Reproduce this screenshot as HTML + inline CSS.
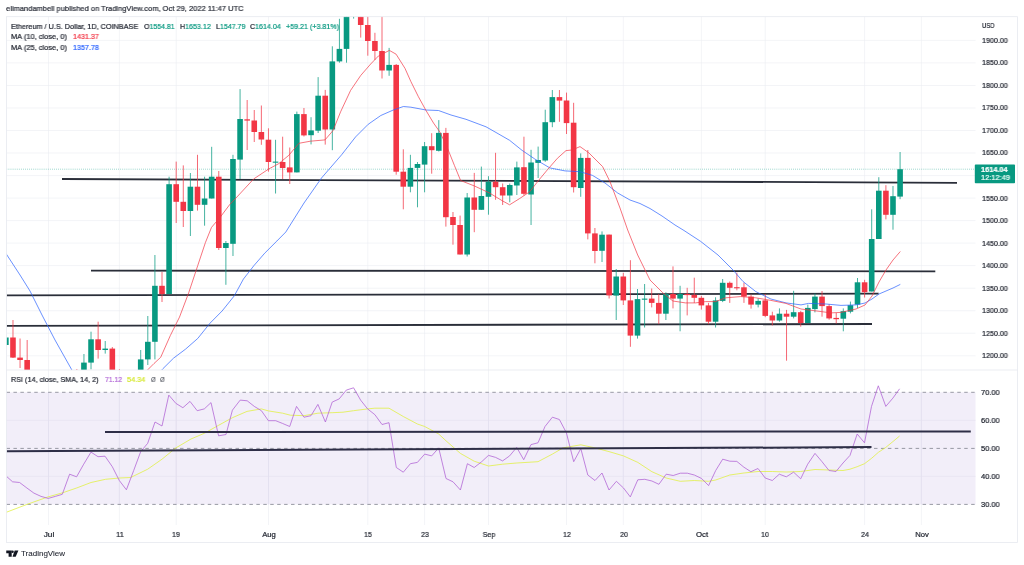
<!DOCTYPE html>
<html><head><meta charset="utf-8"><title>chart</title>
<style>
html,body{margin:0;padding:0;background:#fff;}
body{width:1024px;height:565px;position:relative;overflow:hidden;font-family:"Liberation Sans",sans-serif;}
.t{position:absolute;white-space:nowrap;line-height:1.2;will-change:transform;-webkit-text-stroke:0.22px currentColor;font-family:"Liberation Sans",sans-serif;}
.c{text-align:center;}
</style></head><body>
<svg width="1024" height="565" viewBox="0 0 1024 565" style="position:absolute;left:0;top:0">
<defs><clipPath id="cm"><rect x="6.5" y="16.7" width="969.0" height="353.3"/></clipPath><clipPath id="cr"><rect x="6.5" y="370.0" width="969.0" height="155.0"/></clipPath></defs>
<line x1="48.5" y1="16.7" x2="48.5" y2="525.0" stroke="#ebedf1" stroke-width="0.6"/>
<line x1="119.4" y1="16.7" x2="119.4" y2="525.0" stroke="#ebedf1" stroke-width="0.6"/>
<line x1="176.2" y1="16.7" x2="176.2" y2="525.0" stroke="#ebedf1" stroke-width="0.6"/>
<line x1="268.5" y1="16.7" x2="268.5" y2="525.0" stroke="#ebedf1" stroke-width="0.6"/>
<line x1="367.8" y1="16.7" x2="367.8" y2="525.0" stroke="#ebedf1" stroke-width="0.6"/>
<line x1="424.6" y1="16.7" x2="424.6" y2="525.0" stroke="#ebedf1" stroke-width="0.6"/>
<line x1="488.5" y1="16.7" x2="488.5" y2="525.0" stroke="#ebedf1" stroke-width="0.6"/>
<line x1="566.5" y1="16.7" x2="566.5" y2="525.0" stroke="#ebedf1" stroke-width="0.6"/>
<line x1="623.3" y1="16.7" x2="623.3" y2="525.0" stroke="#ebedf1" stroke-width="0.6"/>
<line x1="701.4" y1="16.7" x2="701.4" y2="525.0" stroke="#ebedf1" stroke-width="0.6"/>
<line x1="765.2" y1="16.7" x2="765.2" y2="525.0" stroke="#ebedf1" stroke-width="0.6"/>
<line x1="864.6" y1="16.7" x2="864.6" y2="525.0" stroke="#ebedf1" stroke-width="0.6"/>
<line x1="921.4" y1="16.7" x2="921.4" y2="525.0" stroke="#ebedf1" stroke-width="0.6"/>
<line x1="6.5" y1="355.8" x2="975.5" y2="355.8" stroke="#ebedf1" stroke-width="0.6"/>
<line x1="6.5" y1="333.2" x2="975.5" y2="333.2" stroke="#ebedf1" stroke-width="0.6"/>
<line x1="6.5" y1="310.7" x2="975.5" y2="310.7" stroke="#ebedf1" stroke-width="0.6"/>
<line x1="6.5" y1="288.2" x2="975.5" y2="288.2" stroke="#ebedf1" stroke-width="0.6"/>
<line x1="6.5" y1="265.6" x2="975.5" y2="265.6" stroke="#ebedf1" stroke-width="0.6"/>
<line x1="6.5" y1="243.1" x2="975.5" y2="243.1" stroke="#ebedf1" stroke-width="0.6"/>
<line x1="6.5" y1="220.6" x2="975.5" y2="220.6" stroke="#ebedf1" stroke-width="0.6"/>
<line x1="6.5" y1="198.1" x2="975.5" y2="198.1" stroke="#ebedf1" stroke-width="0.6"/>
<line x1="6.5" y1="175.6" x2="975.5" y2="175.6" stroke="#ebedf1" stroke-width="0.6"/>
<line x1="6.5" y1="153.0" x2="975.5" y2="153.0" stroke="#ebedf1" stroke-width="0.6"/>
<line x1="6.5" y1="130.5" x2="975.5" y2="130.5" stroke="#ebedf1" stroke-width="0.6"/>
<line x1="6.5" y1="108.0" x2="975.5" y2="108.0" stroke="#ebedf1" stroke-width="0.6"/>
<line x1="6.5" y1="85.5" x2="975.5" y2="85.5" stroke="#ebedf1" stroke-width="0.6"/>
<line x1="6.5" y1="62.9" x2="975.5" y2="62.9" stroke="#ebedf1" stroke-width="0.6"/>
<line x1="6.5" y1="40.4" x2="975.5" y2="40.4" stroke="#ebedf1" stroke-width="0.6"/>
<rect x="6.5" y="392.3" width="969.0" height="112.1" fill="#7e57c2" fill-opacity="0.1"/>
<line x1="6.5" y1="420.4" x2="975.5" y2="420.4" stroke="#e4e0ef" stroke-width="0.6"/>
<line x1="6.5" y1="476.4" x2="975.5" y2="476.4" stroke="#e4e0ef" stroke-width="0.6"/>
<line x1="48.5" y1="392.3" x2="48.5" y2="504.4" stroke="#e3dff0" stroke-width="0.6"/>
<line x1="119.4" y1="392.3" x2="119.4" y2="504.4" stroke="#e3dff0" stroke-width="0.6"/>
<line x1="176.2" y1="392.3" x2="176.2" y2="504.4" stroke="#e3dff0" stroke-width="0.6"/>
<line x1="268.5" y1="392.3" x2="268.5" y2="504.4" stroke="#e3dff0" stroke-width="0.6"/>
<line x1="367.8" y1="392.3" x2="367.8" y2="504.4" stroke="#e3dff0" stroke-width="0.6"/>
<line x1="424.6" y1="392.3" x2="424.6" y2="504.4" stroke="#e3dff0" stroke-width="0.6"/>
<line x1="488.5" y1="392.3" x2="488.5" y2="504.4" stroke="#e3dff0" stroke-width="0.6"/>
<line x1="566.5" y1="392.3" x2="566.5" y2="504.4" stroke="#e3dff0" stroke-width="0.6"/>
<line x1="623.3" y1="392.3" x2="623.3" y2="504.4" stroke="#e3dff0" stroke-width="0.6"/>
<line x1="701.4" y1="392.3" x2="701.4" y2="504.4" stroke="#e3dff0" stroke-width="0.6"/>
<line x1="765.2" y1="392.3" x2="765.2" y2="504.4" stroke="#e3dff0" stroke-width="0.6"/>
<line x1="864.6" y1="392.3" x2="864.6" y2="504.4" stroke="#e3dff0" stroke-width="0.6"/>
<line x1="921.4" y1="392.3" x2="921.4" y2="504.4" stroke="#e3dff0" stroke-width="0.6"/>
<line x1="6.5" y1="392.3" x2="975.5" y2="392.3" stroke="#868994" stroke-width="0.85" stroke-dasharray="3.5 3.44"/>
<line x1="6.5" y1="448.4" x2="975.5" y2="448.4" stroke="#868994" stroke-width="0.85" stroke-dasharray="3.5 3.44"/>
<line x1="6.5" y1="504.4" x2="975.5" y2="504.4" stroke="#868994" stroke-width="0.85" stroke-dasharray="3.5 3.44"/>
<g clip-path="url(#cm)">
<line x1="62" y1="179" x2="957" y2="182.8" stroke="#2a2e39" stroke-width="1.8"/>
<line x1="91" y1="270.6" x2="935.3" y2="271.3" stroke="#2a2e39" stroke-width="1.8"/>
<line x1="6.5" y1="295.4" x2="878.6" y2="293.6" stroke="#2a2e39" stroke-width="1.8"/>
<line x1="6.5" y1="325.8" x2="872" y2="324" stroke="#2a2e39" stroke-width="1.8"/>
<line x1="6.5" y1="169.2" x2="975.5" y2="169.2" stroke="#089981" stroke-width="0.65" stroke-opacity="0.85" stroke-dasharray="0.7 1.37"/>
<line x1="5.87" y1="337.5" x2="5.87" y2="345" stroke="#089981" stroke-width="0.75"/>
<rect x="3.07" y="337.5" width="5.6" height="7.5" fill="#089981"/>
<line x1="12.97" y1="320" x2="12.97" y2="358" stroke="#f23645" stroke-width="0.75"/>
<rect x="10.17" y="337.5" width="5.6" height="20.1" fill="#f23645"/>
<line x1="20.06" y1="338.5" x2="20.06" y2="368" stroke="#f23645" stroke-width="0.75"/>
<rect x="17.26" y="357.6" width="5.6" height="2.4" fill="#f23645"/>
<line x1="27.16" y1="340" x2="27.16" y2="380" stroke="#f23645" stroke-width="0.75"/>
<rect x="24.36" y="360" width="5.6" height="20.0" fill="#f23645"/>
<line x1="76.84" y1="369" x2="76.84" y2="380" stroke="#f23645" stroke-width="0.75"/>
<line x1="83.94" y1="354" x2="83.94" y2="380" stroke="#089981" stroke-width="0.75"/>
<rect x="81.14" y="362.6" width="5.6" height="17.4" fill="#089981"/>
<line x1="91.03" y1="331.7" x2="91.03" y2="369.4" stroke="#089981" stroke-width="0.75"/>
<rect x="88.23" y="339.3" width="5.6" height="23.3" fill="#089981"/>
<line x1="98.13" y1="321.7" x2="98.13" y2="358.6" stroke="#f23645" stroke-width="0.75"/>
<rect x="95.33" y="339.3" width="5.6" height="10.7" fill="#f23645"/>
<line x1="105.23" y1="341" x2="105.23" y2="353.6" stroke="#089981" stroke-width="0.75"/>
<rect x="102.43" y="348.6" width="5.6" height="1.4" fill="#089981"/>
<line x1="112.32" y1="347" x2="112.32" y2="380" stroke="#f23645" stroke-width="0.75"/>
<rect x="109.52" y="348.6" width="5.6" height="31.4" fill="#f23645"/>
<line x1="119.42" y1="369" x2="119.42" y2="380" stroke="#f23645" stroke-width="0.75"/>
<line x1="140.71" y1="350" x2="140.71" y2="380" stroke="#089981" stroke-width="0.75"/>
<rect x="137.91" y="359.4" width="5.6" height="20.6" fill="#089981"/>
<line x1="147.81" y1="316" x2="147.81" y2="365" stroke="#089981" stroke-width="0.75"/>
<rect x="145.01" y="341.8" width="5.6" height="17.6" fill="#089981"/>
<line x1="154.91" y1="255" x2="154.91" y2="359.4" stroke="#089981" stroke-width="0.75"/>
<rect x="152.11" y="285.8" width="5.6" height="56.0" fill="#089981"/>
<line x1="162.00" y1="272" x2="162.00" y2="302" stroke="#f23645" stroke-width="0.75"/>
<rect x="159.20" y="285.8" width="5.6" height="8.2" fill="#f23645"/>
<line x1="169.10" y1="176.7" x2="169.10" y2="294" stroke="#089981" stroke-width="0.75"/>
<rect x="166.30" y="184.2" width="5.6" height="109.8" fill="#089981"/>
<line x1="176.20" y1="161.6" x2="176.20" y2="223" stroke="#f23645" stroke-width="0.75"/>
<rect x="173.40" y="184.2" width="5.6" height="17.6" fill="#f23645"/>
<line x1="183.29" y1="165.4" x2="183.29" y2="227" stroke="#f23645" stroke-width="0.75"/>
<rect x="180.49" y="201.8" width="5.6" height="9.2" fill="#f23645"/>
<line x1="190.39" y1="173" x2="190.39" y2="236" stroke="#089981" stroke-width="0.75"/>
<rect x="187.59" y="186.7" width="5.6" height="24.3" fill="#089981"/>
<line x1="197.49" y1="154.8" x2="197.49" y2="210.6" stroke="#f23645" stroke-width="0.75"/>
<rect x="194.69" y="186.7" width="5.6" height="18.1" fill="#f23645"/>
<line x1="204.58" y1="176.7" x2="204.58" y2="225.7" stroke="#089981" stroke-width="0.75"/>
<rect x="201.78" y="198.5" width="5.6" height="6.3" fill="#089981"/>
<line x1="211.68" y1="146.8" x2="211.68" y2="198.5" stroke="#089981" stroke-width="0.75"/>
<rect x="208.88" y="176.7" width="5.6" height="21.8" fill="#089981"/>
<line x1="218.78" y1="171" x2="218.78" y2="250" stroke="#f23645" stroke-width="0.75"/>
<rect x="215.98" y="176.7" width="5.6" height="71.3" fill="#f23645"/>
<line x1="225.88" y1="241" x2="225.88" y2="284.8" stroke="#089981" stroke-width="0.75"/>
<rect x="223.07" y="243" width="5.6" height="5.0" fill="#089981"/>
<line x1="232.97" y1="154.8" x2="232.97" y2="256" stroke="#089981" stroke-width="0.75"/>
<rect x="230.17" y="159" width="5.6" height="84.8" fill="#089981"/>
<line x1="240.07" y1="89.1" x2="240.07" y2="179" stroke="#089981" stroke-width="0.75"/>
<rect x="237.27" y="119" width="5.6" height="40.6" fill="#089981"/>
<line x1="247.17" y1="100" x2="247.17" y2="150" stroke="#f23645" stroke-width="0.75"/>
<rect x="244.37" y="119.3" width="5.6" height="1.3" fill="#f23645"/>
<line x1="254.26" y1="110" x2="254.26" y2="142" stroke="#f23645" stroke-width="0.75"/>
<rect x="251.46" y="120.5" width="5.6" height="11.5" fill="#f23645"/>
<line x1="261.36" y1="105.5" x2="261.36" y2="144.8" stroke="#f23645" stroke-width="0.75"/>
<rect x="258.56" y="132" width="5.6" height="7.5" fill="#f23645"/>
<line x1="268.46" y1="128.3" x2="268.46" y2="171.7" stroke="#f23645" stroke-width="0.75"/>
<rect x="265.66" y="139.7" width="5.6" height="22.3" fill="#f23645"/>
<line x1="275.55" y1="139.8" x2="275.55" y2="193.5" stroke="#089981" stroke-width="0.75"/>
<rect x="272.75" y="161.6" width="5.6" height="1.1" fill="#089981"/>
<line x1="282.65" y1="136.7" x2="282.65" y2="179" stroke="#f23645" stroke-width="0.75"/>
<rect x="279.85" y="162" width="5.6" height="6.0" fill="#f23645"/>
<line x1="289.75" y1="147.5" x2="289.75" y2="184" stroke="#f23645" stroke-width="0.75"/>
<rect x="286.95" y="167.4" width="5.6" height="5.0" fill="#f23645"/>
<line x1="296.85" y1="111.6" x2="296.85" y2="172.4" stroke="#089981" stroke-width="0.75"/>
<rect x="294.05" y="114.1" width="5.6" height="58.3" fill="#089981"/>
<line x1="303.94" y1="108" x2="303.94" y2="136.5" stroke="#f23645" stroke-width="0.75"/>
<rect x="301.14" y="114.1" width="5.6" height="21.3" fill="#f23645"/>
<line x1="311.04" y1="117.2" x2="311.04" y2="144.4" stroke="#089981" stroke-width="0.75"/>
<rect x="308.24" y="130.4" width="5.6" height="4.8" fill="#089981"/>
<line x1="318.14" y1="77.1" x2="318.14" y2="133" stroke="#089981" stroke-width="0.75"/>
<rect x="315.34" y="95.7" width="5.6" height="35.0" fill="#089981"/>
<line x1="325.23" y1="89.9" x2="325.23" y2="144.6" stroke="#f23645" stroke-width="0.75"/>
<rect x="322.43" y="95.7" width="5.6" height="33.8" fill="#f23645"/>
<line x1="332.33" y1="46.3" x2="332.33" y2="150.2" stroke="#089981" stroke-width="0.75"/>
<rect x="329.53" y="61.4" width="5.6" height="68.1" fill="#089981"/>
<line x1="339.43" y1="18.8" x2="339.43" y2="62.7" stroke="#089981" stroke-width="0.75"/>
<rect x="336.63" y="48.9" width="5.6" height="12.5" fill="#089981"/>
<line x1="346.52" y1="5" x2="346.52" y2="62.7" stroke="#089981" stroke-width="0.75"/>
<rect x="343.72" y="5" width="5.6" height="43.9" fill="#089981"/>
<line x1="353.62" y1="5" x2="353.62" y2="18.6" stroke="#089981" stroke-width="0.75"/>
<line x1="360.72" y1="5" x2="360.72" y2="37.6" stroke="#f23645" stroke-width="0.75"/>
<rect x="357.92" y="5" width="5.6" height="20.0" fill="#f23645"/>
<line x1="367.81" y1="5" x2="367.81" y2="55.7" stroke="#f23645" stroke-width="0.75"/>
<rect x="365.01" y="25" width="5.6" height="16.0" fill="#f23645"/>
<line x1="374.91" y1="32.8" x2="374.91" y2="60" stroke="#f23645" stroke-width="0.75"/>
<rect x="372.11" y="41" width="5.6" height="10.0" fill="#f23645"/>
<line x1="382.01" y1="5" x2="382.01" y2="78.5" stroke="#f23645" stroke-width="0.75"/>
<rect x="379.21" y="51" width="5.6" height="19.5" fill="#f23645"/>
<line x1="389.11" y1="47.9" x2="389.11" y2="75.8" stroke="#089981" stroke-width="0.75"/>
<rect x="386.31" y="64.9" width="5.6" height="5.6" fill="#089981"/>
<line x1="396.20" y1="64" x2="396.20" y2="174.7" stroke="#f23645" stroke-width="0.75"/>
<rect x="393.40" y="64.9" width="5.6" height="106.8" fill="#f23645"/>
<line x1="403.30" y1="149.3" x2="403.30" y2="209.3" stroke="#f23645" stroke-width="0.75"/>
<rect x="400.50" y="171.7" width="5.6" height="15.0" fill="#f23645"/>
<line x1="410.40" y1="154.8" x2="410.40" y2="192.3" stroke="#089981" stroke-width="0.75"/>
<rect x="407.60" y="167.9" width="5.6" height="18.8" fill="#089981"/>
<line x1="417.49" y1="162" x2="417.49" y2="207.3" stroke="#089981" stroke-width="0.75"/>
<rect x="414.69" y="164" width="5.6" height="3.9" fill="#089981"/>
<line x1="424.59" y1="142" x2="424.59" y2="192.3" stroke="#089981" stroke-width="0.75"/>
<rect x="421.79" y="146.2" width="5.6" height="18.4" fill="#089981"/>
<line x1="431.69" y1="133.2" x2="431.69" y2="173.7" stroke="#f23645" stroke-width="0.75"/>
<rect x="428.89" y="146.2" width="5.6" height="4.0" fill="#f23645"/>
<line x1="438.79" y1="120.1" x2="438.79" y2="151.5" stroke="#089981" stroke-width="0.75"/>
<rect x="435.99" y="132.9" width="5.6" height="17.9" fill="#089981"/>
<line x1="445.88" y1="127.9" x2="445.88" y2="226.6" stroke="#f23645" stroke-width="0.75"/>
<rect x="443.08" y="132.9" width="5.6" height="84.3" fill="#f23645"/>
<line x1="452.98" y1="212" x2="452.98" y2="244.7" stroke="#f23645" stroke-width="0.75"/>
<rect x="450.18" y="217" width="5.6" height="8.0" fill="#f23645"/>
<line x1="460.08" y1="215.6" x2="460.08" y2="254.5" stroke="#f23645" stroke-width="0.75"/>
<rect x="457.28" y="225" width="5.6" height="29.5" fill="#f23645"/>
<line x1="467.17" y1="193" x2="467.17" y2="256.5" stroke="#089981" stroke-width="0.75"/>
<rect x="464.37" y="197.5" width="5.6" height="57.0" fill="#089981"/>
<line x1="474.27" y1="172.9" x2="474.27" y2="232.2" stroke="#f23645" stroke-width="0.75"/>
<rect x="471.47" y="197.5" width="5.6" height="12.3" fill="#f23645"/>
<line x1="481.37" y1="166.6" x2="481.37" y2="209.8" stroke="#089981" stroke-width="0.75"/>
<rect x="478.57" y="196" width="5.6" height="13.8" fill="#089981"/>
<line x1="488.46" y1="176.2" x2="488.46" y2="214.7" stroke="#089981" stroke-width="0.75"/>
<rect x="485.66" y="181.7" width="5.6" height="15.1" fill="#089981"/>
<line x1="495.56" y1="152.8" x2="495.56" y2="199.8" stroke="#f23645" stroke-width="0.75"/>
<rect x="492.76" y="181.7" width="5.6" height="5.5" fill="#f23645"/>
<line x1="502.66" y1="183.5" x2="502.66" y2="205" stroke="#f23645" stroke-width="0.75"/>
<rect x="499.86" y="187.2" width="5.6" height="8.3" fill="#f23645"/>
<line x1="509.75" y1="183.5" x2="509.75" y2="202.3" stroke="#089981" stroke-width="0.75"/>
<rect x="506.95" y="185" width="5.6" height="10.5" fill="#089981"/>
<line x1="516.85" y1="161.6" x2="516.85" y2="195" stroke="#089981" stroke-width="0.75"/>
<rect x="514.05" y="167.4" width="5.6" height="18.1" fill="#089981"/>
<line x1="523.95" y1="136.7" x2="523.95" y2="195.5" stroke="#f23645" stroke-width="0.75"/>
<rect x="521.15" y="167.2" width="5.6" height="26.6" fill="#f23645"/>
<line x1="531.05" y1="149.8" x2="531.05" y2="225" stroke="#089981" stroke-width="0.75"/>
<rect x="528.25" y="162.5" width="5.6" height="32.0" fill="#089981"/>
<line x1="538.14" y1="146.6" x2="538.14" y2="178" stroke="#089981" stroke-width="0.75"/>
<rect x="535.34" y="160" width="5.6" height="2.9" fill="#089981"/>
<line x1="545.24" y1="109.7" x2="545.24" y2="161.8" stroke="#089981" stroke-width="0.75"/>
<rect x="542.44" y="122.2" width="5.6" height="38.3" fill="#089981"/>
<line x1="552.34" y1="90" x2="552.34" y2="127.2" stroke="#089981" stroke-width="0.75"/>
<rect x="549.54" y="97.1" width="5.6" height="25.1" fill="#089981"/>
<line x1="559.43" y1="90" x2="559.43" y2="121.8" stroke="#f23645" stroke-width="0.75"/>
<rect x="556.63" y="97.1" width="5.6" height="3.5" fill="#f23645"/>
<line x1="566.53" y1="92.6" x2="566.53" y2="134" stroke="#f23645" stroke-width="0.75"/>
<rect x="563.73" y="100.5" width="5.6" height="22.6" fill="#f23645"/>
<line x1="573.63" y1="102.8" x2="573.63" y2="192.5" stroke="#f23645" stroke-width="0.75"/>
<rect x="570.83" y="122.7" width="5.6" height="64.5" fill="#f23645"/>
<line x1="580.73" y1="153.4" x2="580.73" y2="196.8" stroke="#089981" stroke-width="0.75"/>
<rect x="577.93" y="157.9" width="5.6" height="30.1" fill="#089981"/>
<line x1="587.82" y1="150" x2="587.82" y2="239.4" stroke="#f23645" stroke-width="0.75"/>
<rect x="585.02" y="157.9" width="5.6" height="75.5" fill="#f23645"/>
<line x1="594.92" y1="228" x2="594.92" y2="263.3" stroke="#f23645" stroke-width="0.75"/>
<rect x="592.12" y="233.4" width="5.6" height="17.6" fill="#f23645"/>
<line x1="602.02" y1="231.4" x2="602.02" y2="262" stroke="#089981" stroke-width="0.75"/>
<rect x="599.22" y="234.7" width="5.6" height="16.1" fill="#089981"/>
<line x1="609.11" y1="234.6" x2="609.11" y2="298.5" stroke="#f23645" stroke-width="0.75"/>
<rect x="606.31" y="234.6" width="5.6" height="60.8" fill="#f23645"/>
<line x1="616.21" y1="269" x2="616.21" y2="320" stroke="#089981" stroke-width="0.75"/>
<rect x="613.41" y="276.5" width="5.6" height="19.1" fill="#089981"/>
<line x1="623.31" y1="272.8" x2="623.31" y2="305" stroke="#f23645" stroke-width="0.75"/>
<rect x="620.51" y="276.5" width="5.6" height="23.9" fill="#f23645"/>
<line x1="630.40" y1="260.2" x2="630.40" y2="346.8" stroke="#f23645" stroke-width="0.75"/>
<rect x="627.60" y="300.4" width="5.6" height="35.2" fill="#f23645"/>
<line x1="637.50" y1="289" x2="637.50" y2="338.6" stroke="#089981" stroke-width="0.75"/>
<rect x="634.70" y="299.1" width="5.6" height="36.5" fill="#089981"/>
<line x1="644.60" y1="284" x2="644.60" y2="327.5" stroke="#089981" stroke-width="0.75"/>
<rect x="641.80" y="298.6" width="5.6" height="1.1" fill="#089981"/>
<line x1="651.70" y1="288.5" x2="651.70" y2="307.4" stroke="#f23645" stroke-width="0.75"/>
<rect x="648.90" y="298.6" width="5.6" height="4.3" fill="#f23645"/>
<line x1="658.79" y1="294" x2="658.79" y2="324.2" stroke="#f23645" stroke-width="0.75"/>
<rect x="655.99" y="302.9" width="5.6" height="10.8" fill="#f23645"/>
<line x1="665.89" y1="292.3" x2="665.89" y2="320" stroke="#089981" stroke-width="0.75"/>
<rect x="663.09" y="294" width="5.6" height="19.7" fill="#089981"/>
<line x1="672.99" y1="266.4" x2="672.99" y2="308.4" stroke="#f23645" stroke-width="0.75"/>
<rect x="670.19" y="294" width="5.6" height="4.6" fill="#f23645"/>
<line x1="680.08" y1="285.8" x2="680.08" y2="331.3" stroke="#089981" stroke-width="0.75"/>
<rect x="677.28" y="294" width="5.6" height="4.6" fill="#089981"/>
<line x1="687.18" y1="287.8" x2="687.18" y2="315.4" stroke="#f23645" stroke-width="0.75"/>
<rect x="684.38" y="294" width="5.6" height="1.1" fill="#f23645"/>
<line x1="694.28" y1="277.7" x2="694.28" y2="302.9" stroke="#f23645" stroke-width="0.75"/>
<rect x="691.48" y="294.8" width="5.6" height="3.0" fill="#f23645"/>
<line x1="701.37" y1="295.8" x2="701.37" y2="309.6" stroke="#f23645" stroke-width="0.75"/>
<rect x="698.57" y="297.8" width="5.6" height="7.6" fill="#f23645"/>
<line x1="708.47" y1="302.9" x2="708.47" y2="324.2" stroke="#f23645" stroke-width="0.75"/>
<rect x="705.67" y="305.4" width="5.6" height="16.3" fill="#f23645"/>
<line x1="715.57" y1="297.3" x2="715.57" y2="327.5" stroke="#089981" stroke-width="0.75"/>
<rect x="712.77" y="300.4" width="5.6" height="21.3" fill="#089981"/>
<line x1="722.67" y1="279" x2="722.67" y2="302.1" stroke="#089981" stroke-width="0.75"/>
<rect x="719.87" y="282.8" width="5.6" height="18.1" fill="#089981"/>
<line x1="729.76" y1="281.5" x2="729.76" y2="302.9" stroke="#f23645" stroke-width="0.75"/>
<rect x="726.96" y="282.8" width="5.6" height="5.0" fill="#f23645"/>
<line x1="736.86" y1="272.7" x2="736.86" y2="290.3" stroke="#f23645" stroke-width="0.75"/>
<rect x="734.06" y="287.2" width="5.6" height="1.1" fill="#f23645"/>
<line x1="743.96" y1="282.8" x2="743.96" y2="302.9" stroke="#f23645" stroke-width="0.75"/>
<rect x="741.16" y="287.3" width="5.6" height="9.3" fill="#f23645"/>
<line x1="751.05" y1="294.6" x2="751.05" y2="308.6" stroke="#f23645" stroke-width="0.75"/>
<rect x="748.25" y="296.6" width="5.6" height="8.0" fill="#f23645"/>
<line x1="758.15" y1="298.3" x2="758.15" y2="307.4" stroke="#089981" stroke-width="0.75"/>
<rect x="755.35" y="300.9" width="5.6" height="3.7" fill="#089981"/>
<line x1="765.25" y1="294" x2="765.25" y2="317.2" stroke="#f23645" stroke-width="0.75"/>
<rect x="762.45" y="300.4" width="5.6" height="15.5" fill="#f23645"/>
<line x1="772.34" y1="311.7" x2="772.34" y2="325.5" stroke="#f23645" stroke-width="0.75"/>
<rect x="769.54" y="315.4" width="5.6" height="5.1" fill="#f23645"/>
<line x1="779.44" y1="308.4" x2="779.44" y2="321.7" stroke="#089981" stroke-width="0.75"/>
<rect x="776.64" y="313.7" width="5.6" height="6.8" fill="#089981"/>
<line x1="786.54" y1="309.9" x2="786.54" y2="360.7" stroke="#f23645" stroke-width="0.75"/>
<rect x="783.74" y="313.7" width="5.6" height="3.0" fill="#f23645"/>
<line x1="793.64" y1="290.8" x2="793.64" y2="318.4" stroke="#089981" stroke-width="0.75"/>
<rect x="790.84" y="312.2" width="5.6" height="4.5" fill="#089981"/>
<line x1="800.73" y1="310.9" x2="800.73" y2="326.7" stroke="#f23645" stroke-width="0.75"/>
<rect x="797.93" y="312.2" width="5.6" height="10.8" fill="#f23645"/>
<line x1="807.83" y1="304.6" x2="807.83" y2="323" stroke="#089981" stroke-width="0.75"/>
<rect x="805.03" y="307.9" width="5.6" height="15.1" fill="#089981"/>
<line x1="814.93" y1="293.6" x2="814.93" y2="312.4" stroke="#089981" stroke-width="0.75"/>
<rect x="812.13" y="296.6" width="5.6" height="12.5" fill="#089981"/>
<line x1="822.02" y1="291" x2="822.02" y2="316.7" stroke="#f23645" stroke-width="0.75"/>
<rect x="819.22" y="296.6" width="5.6" height="9.5" fill="#f23645"/>
<line x1="829.12" y1="304.1" x2="829.12" y2="319.7" stroke="#f23645" stroke-width="0.75"/>
<rect x="826.32" y="306.1" width="5.6" height="12.3" fill="#f23645"/>
<line x1="836.22" y1="312.9" x2="836.22" y2="323.5" stroke="#f23645" stroke-width="0.75"/>
<rect x="833.42" y="317.9" width="5.6" height="1.3" fill="#f23645"/>
<line x1="843.31" y1="308.4" x2="843.31" y2="331.3" stroke="#089981" stroke-width="0.75"/>
<rect x="840.51" y="311.2" width="5.6" height="7.5" fill="#089981"/>
<line x1="850.41" y1="301.6" x2="850.41" y2="313.4" stroke="#089981" stroke-width="0.75"/>
<rect x="847.61" y="305.2" width="5.6" height="6.5" fill="#089981"/>
<line x1="857.51" y1="278" x2="857.51" y2="308" stroke="#089981" stroke-width="0.75"/>
<rect x="854.71" y="282.3" width="5.6" height="22.3" fill="#089981"/>
<line x1="864.61" y1="279.8" x2="864.61" y2="297.5" stroke="#f23645" stroke-width="0.75"/>
<rect x="861.81" y="282.3" width="5.6" height="9.9" fill="#f23645"/>
<line x1="871.70" y1="209.3" x2="871.70" y2="291.5" stroke="#089981" stroke-width="0.75"/>
<rect x="868.90" y="239" width="5.6" height="52.5" fill="#089981"/>
<line x1="878.80" y1="177.2" x2="878.80" y2="239" stroke="#089981" stroke-width="0.75"/>
<rect x="876.00" y="190.7" width="5.6" height="48.3" fill="#089981"/>
<line x1="885.90" y1="185.2" x2="885.90" y2="219.4" stroke="#f23645" stroke-width="0.75"/>
<rect x="883.10" y="190.7" width="5.6" height="24.1" fill="#f23645"/>
<line x1="892.99" y1="186" x2="892.99" y2="229.7" stroke="#089981" stroke-width="0.75"/>
<rect x="890.19" y="196.2" width="5.6" height="18.6" fill="#089981"/>
<line x1="900.09" y1="152" x2="900.09" y2="199.2" stroke="#089981" stroke-width="0.75"/>
<rect x="897.29" y="169.2" width="5.6" height="27.4" fill="#089981"/>
<path d="M5.0 252.0 L20.0 275.0 L30.0 291.0 L42.0 315.0 L55.0 340.0 L73.0 372.0 M160.0 372.0 L162.8 368.8 L173.5 358.2 L185.6 349.1 L197.8 338.4 L210.0 323.2 L222.1 311.0 L234.3 295.8 L243.4 279.1 L254.1 265.4 L264.7 253.2 L276.9 241.0 L285.8 232.0 L304.0 203.0 L321.5 178.0 L341.6 154.8 L355.6 136.9 L368.2 124.3 L380.8 115.5 L393.3 110.0 L403.4 106.5 L410.9 107.2 L426.0 110.0 L438.5 110.5 L451.0 115.0 L466.0 119.3 L486.0 126.8 L492.0 130.2 L509.6 140.3 L522.0 150.3 L534.8 159.0 L549.8 167.9 L565.0 170.9 L580.0 171.7 L592.5 175.4 L605.0 183.0 L617.7 193.0 L630.0 200.0 L640.0 203.5 L650.0 208.5 L662.0 216.0 L675.0 225.0 L684.0 230.5 L700.5 241.3 L718.0 255.0 L733.0 270.0 L743.0 281.5 L755.8 291.6 L770.9 299.0 L786.0 302.9 L801.0 304.9 L808.5 303.4 L826.0 304.0 L841.0 305.4 L856.0 304.9 L865.0 303.0 L872.0 299.0 L879.0 294.0 L886.0 291.0 L893.0 288.0 L900.3 284.4" fill="none" stroke="#2962ff" stroke-width="0.7" stroke-linejoin="round"/>
<path d="M147.0 370.5 L154.0 363.5 L160.7 357.3 L170.4 335.4 L179.5 317.1 L188.7 292.8 L197.8 265.4 L205.4 242.6 L211.5 227.4 L220.6 216.7 L229.7 204.6 L236.0 198.0 L253.6 179.0 L268.7 169.0 L278.8 163.6 L288.8 155.3 L298.9 143.3 L310.4 141.2 L325.0 139.9 L333.0 130.6 L340.6 111.8 L350.6 90.4 L360.7 75.5 L370.7 64.0 L378.4 56.0 L389.4 50.4 L396.1 54.2 L405.0 68.4 L410.9 81.6 L418.4 96.7 L426.0 110.5 L433.5 123.0 L439.8 131.9 L446.8 146.5 L454.4 165.4 L460.6 180.5 L474.5 186.0 L489.5 193.0 L502.0 200.6 L509.6 204.8 L519.7 198.5 L529.7 191.8 L538.5 180.5 L547.3 169.9 L557.4 158.3 L566.0 150.6 L572.0 150.0 L580.0 146.6 L588.8 152.8 L602.6 166.6 L610.0 181.7 L620.0 208.0 L627.7 230.0 L637.7 255.0 L650.0 280.0 L662.8 292.8 L672.9 301.0 L685.4 302.9 L695.5 302.9 L705.5 301.6 L715.6 301.6 L725.6 297.8 L740.7 296.6 L755.8 297.8 L770.9 300.4 L785.9 303.4 L801.0 309.0 L816.0 310.9 L831.0 312.9 L841.0 312.4 L856.0 309.0 L865.0 305.0 L872.0 296.0 L879.0 282.0 L886.0 270.0 L893.0 260.0 L900.3 251.5" fill="none" stroke="#f23645" stroke-width="0.7" stroke-linejoin="round"/>
</g>
<g clip-path="url(#cr)">
<path d="M5.0 513.0 L7.0 512.0 L27.0 504.4 L48.0 496.9 L62.0 493.0 L76.6 488.0 L91.0 482.5 L105.5 479.3 L119.3 478.0 L130.7 477.5 L147.7 469.2 L162.0 459.2 L175.9 447.9 L191.0 439.0 L204.3 433.3 L218.6 425.3 L232.4 417.7 L247.0 411.4 L261.4 408.9 L268.4 410.9 L282.7 413.2 L290.3 415.2 L304.0 415.7 L317.9 413.2 L332.2 412.7 L343.0 412.2 L353.6 410.7 L367.6 408.9 L374.9 408.2 L389.0 408.2 L403.3 416.5 L417.4 424.0 L424.7 426.5 L438.7 434.0 L446.0 440.8 L460.4 453.4 L474.2 461.2 L488.5 466.0 L502.6 464.2 L516.7 463.0 L538.0 461.7 L552.4 454.1 L563.0 447.9 L580.8 444.8 L595.0 447.9 L609.0 451.6 L623.5 455.9 L637.8 462.4 L651.9 471.7 L666.2 478.0 L680.3 481.3 L694.3 480.5 L708.6 481.3 L715.7 480.0 L729.8 475.0 L743.9 473.0 L758.0 471.5 L772.3 471.5 L786.3 472.0 L800.7 471.5 L815.0 469.5 L829.0 470.0 L843.0 470.5 L850.0 469.2 L857.2 466.7 L864.5 463.7 L871.5 458.4 L878.3 452.4 L885.8 447.4 L892.9 441.6 L899.6 436.0" fill="none" stroke="#e1f046" stroke-width="0.8" stroke-linejoin="round"/>
<path d="M7.0 476.8 L12.6 481.8 L19.6 482.5 L26.9 488.0 L33.9 493.1 L41.0 496.4 L48.2 498.4 L55.3 496.4 L62.3 494.3 L69.6 474.2 L76.6 476.8 L83.7 464.2 L91.0 452.1 L98.0 456.7 L105.0 456.2 L112.3 466.7 L119.3 480.5 L126.4 489.8 L133.7 470.5 L140.7 451.6 L147.7 443.3 L155.0 422.0 L162.0 426.0 L168.8 395.1 L175.9 403.4 L182.9 407.7 L190.0 401.4 L197.2 410.7 L204.3 408.9 L211.0 402.6 L218.6 435.8 L226.0 434.5 L232.4 410.2 L240.2 400.1 L247.2 400.8 L254.3 406.4 L261.4 410.7 L268.4 420.7 L275.7 420.7 L282.7 423.5 L289.7 426.5 L296.5 406.4 L304.0 417.2 L311.0 415.7 L317.9 404.4 L325.4 422.0 L332.2 402.1 L339.2 398.9 L346.3 390.1 L353.6 387.8 L360.6 400.1 L367.6 408.9 L374.9 414.7 L382.0 424.5 L389.0 422.7 L396.3 467.5 L403.3 472.2 L410.4 463.7 L417.4 462.4 L424.7 454.1 L431.7 455.9 L438.7 447.9 L446.0 478.5 L453.0 481.8 L460.4 490.0 L467.4 463.7 L474.2 467.5 L481.7 461.7 L488.5 455.4 L495.6 457.4 L502.6 460.9 L509.6 455.9 L516.7 447.4 L523.7 459.7 L531.0 444.6 L538.0 442.8 L545.0 426.5 L552.4 417.2 L559.4 419.5 L566.4 432.8 L573.7 461.7 L580.8 448.6 L587.8 475.0 L595.0 480.5 L602.0 473.0 L609.0 490.0 L616.4 481.3 L623.5 488.0 L630.3 496.9 L637.8 479.8 L644.8 479.3 L651.9 481.0 L658.9 484.3 L666.2 474.2 L673.2 475.5 L680.3 473.2 L687.3 473.2 L694.3 475.0 L701.6 478.5 L708.6 485.6 L715.7 470.5 L722.7 459.2 L729.8 461.2 L736.8 461.4 L743.9 467.2 L750.9 471.7 L758.0 468.5 L765.2 478.0 L772.3 480.5 L779.3 474.2 L786.3 476.8 L793.6 472.2 L800.7 478.8 L807.7 464.2 L815.0 453.4 L822.0 461.7 L829.0 470.5 L836.0 471.5 L843.0 463.0 L850.0 455.4 L857.2 434.0 L864.5 442.8 L871.5 406.4 L878.3 385.8 L885.8 406.4 L892.9 398.1 L899.6 388.8" fill="none" stroke="#b267d6" stroke-width="0.8" stroke-linejoin="round"/>
<line x1="105" y1="432" x2="970.8" y2="431.5" stroke="#2e2e47" stroke-width="2"/>
<line x1="6.5" y1="451.3" x2="871.5" y2="447.1" stroke="#2e2e47" stroke-width="2"/>
</g>
<rect x="6.5" y="16.7" width="1011.0" height="525.8" fill="none" stroke="#e6e9ef" stroke-width="0.8"/>
<line x1="6.5" y1="370.0" x2="1017.5" y2="370.0" stroke="#e6e9ef" stroke-width="0.8"/>
<rect x="974.8" y="164.6" width="40.2" height="18.6" rx="0.8" fill="#089981"/>
<g fill="#131722"><path d="M6.25 550.5h5.45v6.3h-3.1v-3.6h-2.35z"/><circle cx="12.55" cy="551.8" r="1.25"/><path d="M14.7 550.5h3.7l-2.7 6.3h-3.2z"/></g>
</svg>
<div class="t" id="t0" style="left:6.40px;top:4.32px;font-size:7.9px;color:#2a2e39;transform:scaleX(0.9531);transform-origin:0 50%;"><span>elimandambell published on TradingView.com, Oct 29, 2022 11:47 UTC</span></div>
<div class="t" id="t1" style="left:11.40px;top:21.61px;font-size:7.65px;color:#1e222d;transform:scaleX(0.9509);transform-origin:0 50%;"><span>Ethereum / U.S. Dollar, 1D, COINBASE</span></div>
<div class="t" id="t2" style="left:144.00px;top:21.61px;font-size:7.65px;color:#1e222d;transform:scaleX(0.9143);transform-origin:0 50%;"><span>O<span style="color:#089981">1554.81</span></span></div>
<div class="t" id="t3" style="left:179.80px;top:21.61px;font-size:7.65px;color:#1e222d;transform:scaleX(0.9289);transform-origin:0 50%;"><span>H<span style="color:#089981">1653.12</span></span></div>
<div class="t" id="t4" style="left:215.90px;top:21.61px;font-size:7.65px;color:#1e222d;transform:scaleX(0.9255);transform-origin:0 50%;"><span>L<span style="color:#089981">1547.79</span></span></div>
<div class="t" id="t5" style="left:250.30px;top:21.61px;font-size:7.65px;color:#1e222d;transform:scaleX(0.9259);transform-origin:0 50%;"><span>C<span style="color:#089981">1614.04</span></span></div>
<div class="t" id="t6" style="left:285.70px;top:21.61px;font-size:7.65px;color:#1e222d;transform:scaleX(0.9329);transform-origin:0 50%;"><span><span style="color:#089981">+59.21 (+3.81%)</span></span></div>
<div class="t" id="t7" style="left:11.40px;top:32.16px;font-size:7.65px;color:#1e222d;transform:scaleX(0.9751);transform-origin:0 50%;"><span>MA (10, close, 0)</span></div>
<div class="t" id="t8" style="left:73.00px;top:32.16px;font-size:7.65px;color:#f23645;transform:scaleX(0.9412);transform-origin:0 50%;"><span>1431.37</span></div>
<div class="t" id="t9" style="left:11.40px;top:42.56px;font-size:7.65px;color:#1e222d;transform:scaleX(0.9751);transform-origin:0 50%;"><span>MA (25, close, 0)</span></div>
<div class="t" id="t10" style="left:73.00px;top:42.56px;font-size:7.65px;color:#2962ff;transform:scaleX(0.9412);transform-origin:0 50%;"><span>1357.78</span></div>
<div class="t" id="t11" style="left:11.40px;top:375.46px;font-size:7.65px;color:#1e222d;transform:scaleX(0.9462);transform-origin:0 50%;"><span>RSI (14, close, SMA, 14, 2)</span></div>
<div class="t" id="t12" style="left:104.60px;top:375.46px;font-size:7.65px;color:#b267d6;transform:scaleX(0.8993);transform-origin:0 50%;"><span>71.12</span></div>
<div class="t" id="t13" style="left:126.90px;top:375.46px;font-size:7.65px;color:#d6e833;transform:scaleX(0.9621);transform-origin:0 50%;"><span>54.34</span></div>
<div class="t" id="t14" style="left:150.80px;top:375.89px;font-size:7.2px;color:#3c404b;transform:scaleX(0.8581);transform-origin:0 50%;-webkit-text-stroke:0;"><span>&#216;</span></div>
<div class="t" id="t15" style="left:160.00px;top:375.89px;font-size:7.2px;color:#3c404b;transform:scaleX(0.8581);transform-origin:0 50%;-webkit-text-stroke:0;"><span>&#216;</span></div>
<div class="t" id="t16" style="left:981.60px;top:20.71px;font-size:7.6px;color:#1e222d;transform:scaleX(0.7790);transform-origin:0 50%;"><span>USD</span></div>
<div class="t" id="t17" style="left:981.50px;top:351.21px;font-size:7.65px;color:#1e222d;transform:scaleX(0.9376);transform-origin:0 50%;"><span>1200.00</span></div>
<div class="t" id="t18" style="left:981.50px;top:328.68px;font-size:7.65px;color:#1e222d;transform:scaleX(0.9376);transform-origin:0 50%;"><span>1250.00</span></div>
<div class="t" id="t19" style="left:981.50px;top:306.16px;font-size:7.65px;color:#1e222d;transform:scaleX(0.9376);transform-origin:0 50%;"><span>1300.00</span></div>
<div class="t" id="t20" style="left:981.50px;top:283.63px;font-size:7.65px;color:#1e222d;transform:scaleX(0.9376);transform-origin:0 50%;"><span>1350.00</span></div>
<div class="t" id="t21" style="left:981.50px;top:261.11px;font-size:7.65px;color:#1e222d;transform:scaleX(0.9376);transform-origin:0 50%;"><span>1400.00</span></div>
<div class="t" id="t22" style="left:981.50px;top:238.58px;font-size:7.65px;color:#1e222d;transform:scaleX(0.9376);transform-origin:0 50%;"><span>1450.00</span></div>
<div class="t" id="t23" style="left:981.50px;top:216.06px;font-size:7.65px;color:#1e222d;transform:scaleX(0.9376);transform-origin:0 50%;"><span>1500.00</span></div>
<div class="t" id="t24" style="left:981.50px;top:193.53px;font-size:7.65px;color:#1e222d;transform:scaleX(0.9376);transform-origin:0 50%;"><span>1550.00</span></div>
<div class="t" id="t25" style="left:981.50px;top:148.48px;font-size:7.65px;color:#1e222d;transform:scaleX(0.9376);transform-origin:0 50%;"><span>1650.00</span></div>
<div class="t" id="t26" style="left:981.50px;top:125.96px;font-size:7.65px;color:#1e222d;transform:scaleX(0.9376);transform-origin:0 50%;"><span>1700.00</span></div>
<div class="t" id="t27" style="left:981.50px;top:103.43px;font-size:7.65px;color:#1e222d;transform:scaleX(0.9376);transform-origin:0 50%;"><span>1750.00</span></div>
<div class="t" id="t28" style="left:981.50px;top:80.91px;font-size:7.65px;color:#1e222d;transform:scaleX(0.9376);transform-origin:0 50%;"><span>1800.00</span></div>
<div class="t" id="t29" style="left:981.50px;top:58.38px;font-size:7.65px;color:#1e222d;transform:scaleX(0.9376);transform-origin:0 50%;"><span>1850.00</span></div>
<div class="t" id="t30" style="left:981.50px;top:35.86px;font-size:7.65px;color:#1e222d;transform:scaleX(0.9376);transform-origin:0 50%;"><span>1900.00</span></div>
<div class="t" id="t31" style="left:981.20px;top:387.76px;font-size:7.65px;color:#1e222d;transform:scaleX(0.9778);transform-origin:0 50%;"><span>70.00</span></div>
<div class="t" id="t32" style="left:981.20px;top:415.86px;font-size:7.65px;color:#1e222d;transform:scaleX(0.9778);transform-origin:0 50%;"><span>60.00</span></div>
<div class="t" id="t33" style="left:981.20px;top:443.86px;font-size:7.65px;color:#1e222d;transform:scaleX(0.9778);transform-origin:0 50%;"><span>50.00</span></div>
<div class="t" id="t34" style="left:981.20px;top:471.86px;font-size:7.65px;color:#1e222d;transform:scaleX(0.9778);transform-origin:0 50%;"><span>40.00</span></div>
<div class="t" id="t35" style="left:981.20px;top:499.86px;font-size:7.65px;color:#1e222d;transform:scaleX(0.9778);transform-origin:0 50%;"><span>30.00</span></div>
<div class="t" id="t36" style="left:981.40px;top:165.16px;font-size:7.65px;color:#fff;transform:scaleX(0.9665);transform-origin:0 50%;font-weight:bold"><span>1614.04</span></div>
<div class="t" id="t37" style="left:981.40px;top:173.16px;font-size:7.65px;color:#f4fffb;transform:scaleX(0.9748);transform-origin:0 50%;"><span>12:12:49</span></div>
<div class="t c" id="t38" style="left:18.65px;top:529.56px;width:60px;font-size:7.65px;color:#1e222d;transform:scaleX(1.0837);transform-origin:50% 50%;"><span>Jul</span></div>
<div class="t c" id="t39" style="left:89.62px;top:529.56px;width:60px;font-size:7.65px;color:#1e222d;transform:scaleX(0.9449);transform-origin:50% 50%;"><span>11</span></div>
<div class="t c" id="t40" style="left:146.40px;top:529.56px;width:60px;font-size:7.65px;color:#1e222d;transform:scaleX(0.9059);transform-origin:50% 50%;"><span>19</span></div>
<div class="t c" id="t41" style="left:238.66px;top:529.56px;width:60px;font-size:7.65px;color:#1e222d;transform:scaleX(0.9920);transform-origin:50% 50%;"><span>Aug</span></div>
<div class="t c" id="t42" style="left:338.01px;top:529.56px;width:60px;font-size:7.65px;color:#1e222d;transform:scaleX(0.8941);transform-origin:50% 50%;"><span>15</span></div>
<div class="t c" id="t43" style="left:394.79px;top:529.56px;width:60px;font-size:7.65px;color:#1e222d;transform:scaleX(0.9059);transform-origin:50% 50%;"><span>23</span></div>
<div class="t c" id="t44" style="left:458.66px;top:529.56px;width:60px;font-size:7.65px;color:#1e222d;transform:scaleX(0.9332);transform-origin:50% 50%;"><span>Sep</span></div>
<div class="t c" id="t45" style="left:536.73px;top:529.56px;width:60px;font-size:7.65px;color:#1e222d;transform:scaleX(0.8941);transform-origin:50% 50%;"><span>12</span></div>
<div class="t c" id="t46" style="left:593.51px;top:529.56px;width:60px;font-size:7.65px;color:#1e222d;transform:scaleX(0.9059);transform-origin:50% 50%;"><span>20</span></div>
<div class="t c" id="t47" style="left:671.57px;top:529.56px;width:60px;font-size:7.65px;color:#1e222d;transform:scaleX(1.0260);transform-origin:50% 50%;"><span>Oct</span></div>
<div class="t c" id="t48" style="left:735.45px;top:529.56px;width:60px;font-size:7.65px;color:#1e222d;transform:scaleX(0.8941);transform-origin:50% 50%;"><span>10</span></div>
<div class="t c" id="t49" style="left:834.81px;top:529.56px;width:60px;font-size:7.65px;color:#1e222d;transform:scaleX(0.9059);transform-origin:50% 50%;"><span>24</span></div>
<div class="t c" id="t50" style="left:891.58px;top:529.56px;width:60px;font-size:7.65px;color:#1e222d;transform:scaleX(0.9931);transform-origin:50% 50%;"><span>Nov</span></div>
<div class="t" id="t51" style="left:20.80px;top:549.23px;font-size:8.0px;color:#1e222d;transform:scaleX(0.9993);transform-origin:0 50%;-webkit-text-stroke:0.08px currentColor;"><span>TradingView</span></div>
</body></html>
